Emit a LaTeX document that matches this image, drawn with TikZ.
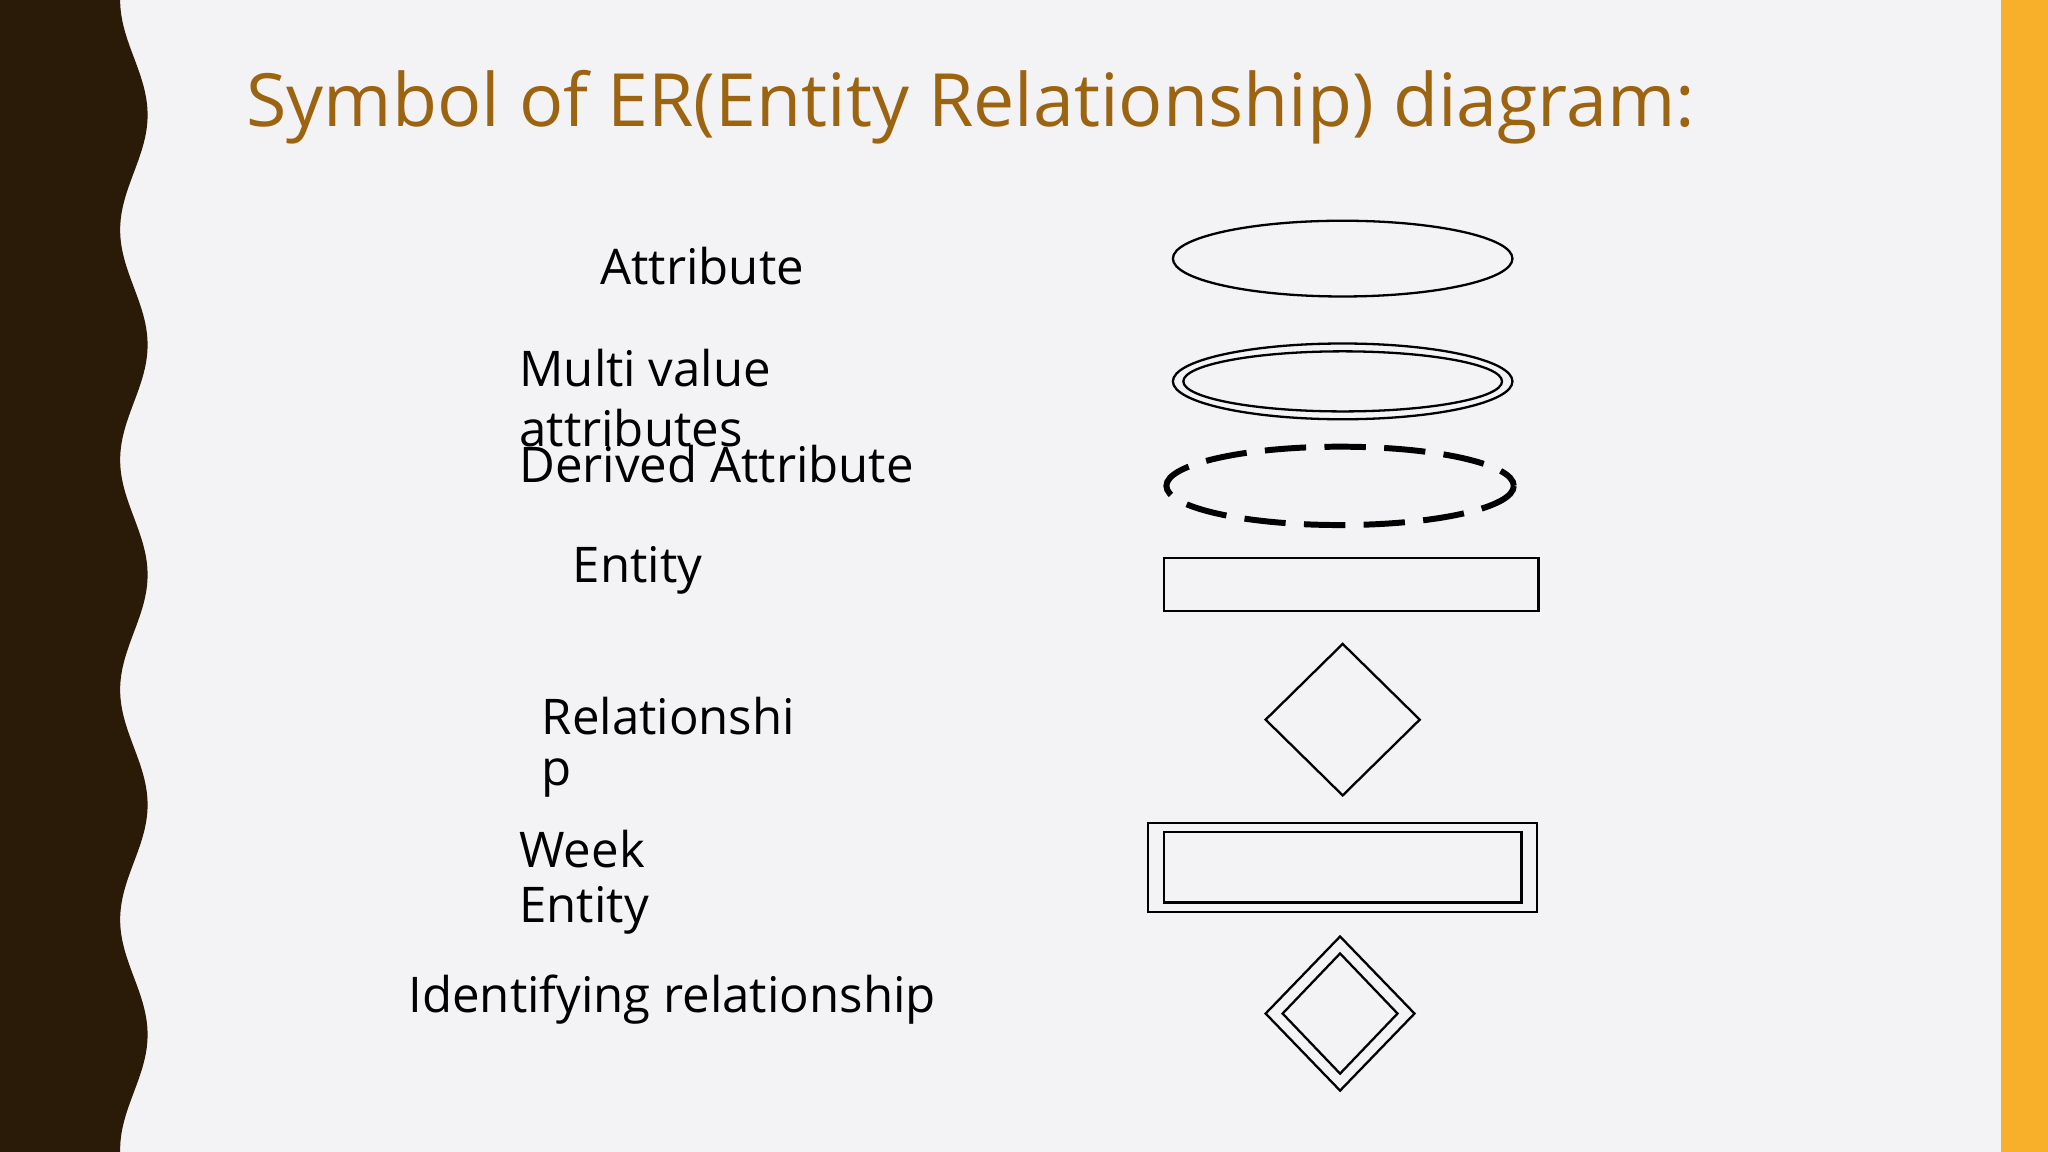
\documentclass[tikz,border=0pt]{standalone}
\usepackage{fontspec}
\setmainfont{Open Sans}
\usetikzlibrary{shapes.geometric}
\definecolor{bg}{HTML}{F3F3F5}
\definecolor{band}{HTML}{2A1A08}
\definecolor{side}{HTML}{F8B02A}
\definecolor{ttl}{HTML}{9C6410}
\begin{document}
\begin{tikzpicture}[x=0.01cm,y=-0.01cm,
  lbl/.style={anchor=west,inner sep=0,font=\fontsize{10.7pt}{13pt}\selectfont},
  shp/.style={draw,line width=0.5pt}]
\fill[bg] (0,0) rectangle (1568,882);
\useasboundingbox (0,0) rectangle (1568,882);
\fill[band] (0,0) -- plot[domain=0:882,samples=300,smooth] ({102.5-10.5*cos(2.045*\x)},\x) -- (0,882) -- cycle;
\fill[side] (1532,0) rectangle (1568,882);
\node[anchor=west,inner sep=0,text=ttl,font=\fontsize{16pt}{19pt}\selectfont] (title) at (188,82) {Symbol of ER(Entity Relationship) diagram:};
\node[lbl] (t1) at (459,204) {Attribute};
\node[lbl] (t2) at (397,282) {Multi value};
\node[lbl] (t2b) at (397,328) {attributes};
\node[lbl] (t3) at (397,355) {Derived Attribute};
\node[lbl] (t4) at (438,437) {Entity};
\node[lbl] (t5) at (414,548) {Relationshi};
\node[lbl] (t5b) at (414,596) {p};
\node[lbl] (t6) at (397,650) {Week};
\node[lbl] (t6b) at (397,697) {Entity};
\node[lbl] (t7) at (312,765) {Identifying relationship};
\draw[shp] (1028,198) ellipse [x radius=130,y radius=29];
\draw[shp] (1028,292) ellipse [x radius=130,y radius=29];
\draw[shp] (1028,292) ellipse [x radius=122,y radius=23];
\draw[line width=1.3pt,dash pattern=on 9pt off 4pt] (1026,372) ellipse [x radius=133,y radius=30];
\draw[shp] (891,427) rectangle (1178,468);
\draw[shp] (1028,493) -- (1087,551) -- (1028,609) -- (969,551) -- cycle;
\draw[shp] (879,630) rectangle (1177,698);
\draw[shp] (891,637) rectangle (1165,691);
\draw[shp] (1026,717) -- (1083,776) -- (1026,835) -- (969,776) -- cycle;
\draw[shp] (1026,730) -- (1070,776) -- (1026,822) -- (982,776) -- cycle;
\end{tikzpicture}
\end{document}
